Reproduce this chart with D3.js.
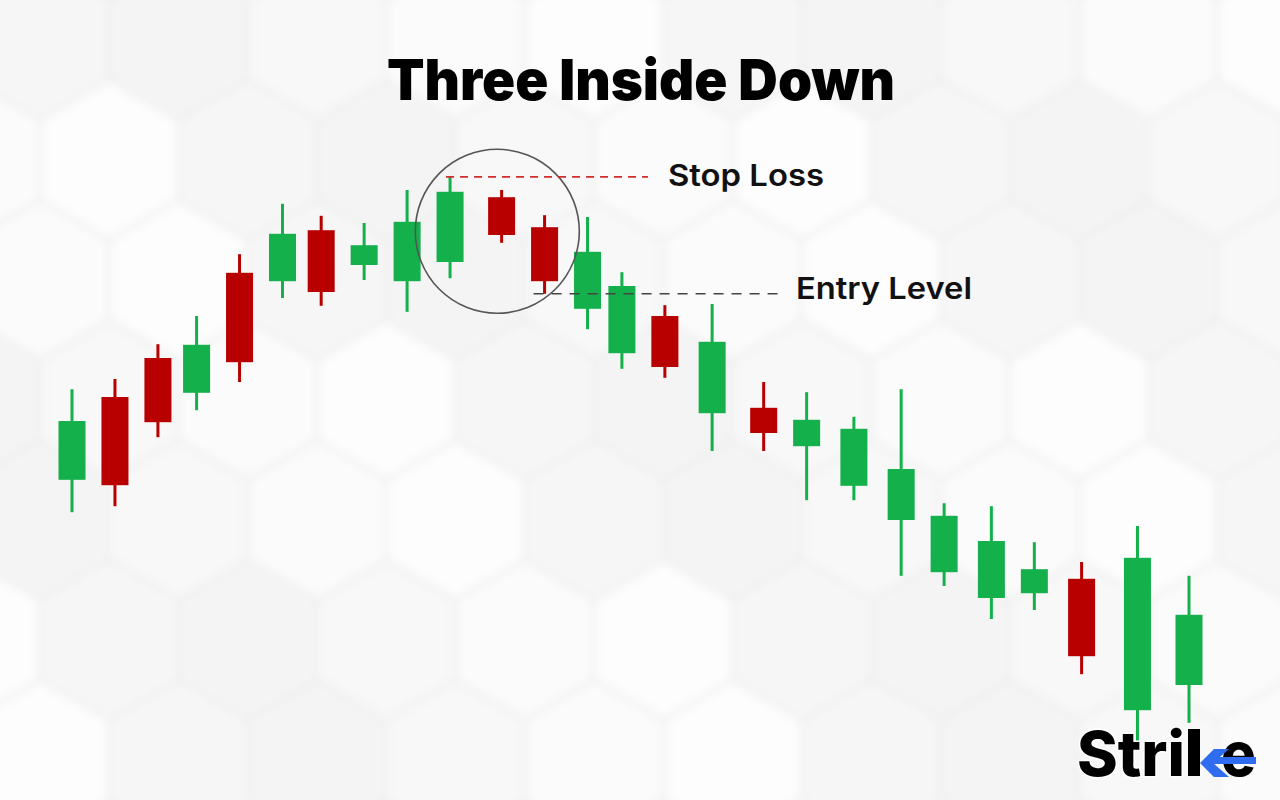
<!DOCTYPE html>
<html>
<head>
<meta charset="utf-8">
<script src="https://cdn.jsdelivr.net/npm/d3@7"></script>
<style>
html,body{margin:0;padding:0;background:#fafafa;}
svg{display:block;}
</style>
</head>
<body>
<svg id="chart" width="1280" height="800"></svg>
<script>
// ---- data (price units) ----
const sessions = [0,1.0,2.0,2.9,3.9,4.9,5.8,6.8,7.8,8.8,10.0,11.0,12.0,12.8,13.8,14.9,16.1,17.1,18.2,19.3,20.3,21.4,22.4,23.5,24.8,26.0];
const opens  = [46.7,60.5,67.0,61.2,81.2,79.8,88.3,82.5,79.8,83.0,93.8,88.8,75.2,67.8,74.0,57.8,58.7,52.3,45.7,40.0,31.3,27.0,27.8,30.2,8.3,12.5];
const highs  = [61.8,63.5,69.3,74.0,84.3,92.7,90.7,89.5,95.0,97.2,95.0,90.8,90.5,81.3,75.8,76.0,63.0,61.3,57.2,61.8,42.8,42.3,36.3,33.0,39.0,30.7];
const lows   = [41.3,42.3,53.8,58.3,63.0,77.0,75.7,80.0,74.7,80.3,86.2,77.7,71.8,65.2,63.7,51.5,51.5,43.3,43.3,30.7,29.0,23.5,25.0,14.3,3.0,6.2];
const closes = [56.5,45.8,56.3,69.2,66.3,87.7,78.0,85.8,89.7,94.7,87.5,79.8,84.7,79.0,65.5,69.7,54.5,56.7,55.2,48.5,40.7,36.5,31.8,17.3,33.7,24.2];
const title = "Three Inside Down";
const labels = ["Stop Loss", "Entry Level"];
const patternIdx = [9, 10, 11]; // Three Inside Down candles

const candles = sessions.map((t,i)=>({t, o:opens[i], h:highs[i], l:lows[i], c:closes[i]}));

const svg = d3.select("#chart");
const W = 1280, H = 800;

// ---- background hex pattern ----
const defs = svg.append("defs");
defs.append("filter").attr("id","soft").append("feGaussianBlur").attr("stdDeviation",4);
const bg = svg.append("g");
bg.append("rect").attr("width",W).attr("height",H).attr("fill","#fafafa");
const bgHex = bg.append("g").attr("filter","url(#soft)");
const R = 80, hw = Math.sqrt(3)*R;
const hexPts = (cx,cy)=>d3.range(6).map(k=>{const a=Math.PI/180*(60*k-90);return [cx+R*Math.cos(a), cy+R*Math.sin(a)];});
const fills = ["#f6f6f6","#fbfbfb","#f4f4f4","#fdfdfd","#f8f8f8"];
for(let row=-1; row*1.5*R < H+R; row++){
  for(let col=-1; col*hw < W+hw; col++){
    const cx = col*hw + (row%2 ? hw/2 : 0) + 40;
    const cy = row*1.5*R + 40;
    bgHex.append("polygon")
      .attr("points", hexPts(cx,cy).map(p=>p.join(",")).join(" "))
      .attr("fill", fills[(row*3+col*2+50)%fills.length])
      .attr("stroke","#ededed").attr("stroke-width",3);
  }
}

// ---- scales ----
const x = d3.scaleLinear().domain([0,26]).range([72,1189]);
const y = d3.scaleLinear().domain([0,100]).range([760,160]);
const bodyW = 27;
const green = "#13b04b", red = "#b90000";

// ---- title ----
svg.append("text").text(title)
  .attr("x",641).attr("y",100).attr("text-anchor","middle")
  .attr("font-family","Inter, 'Open Sans', sans-serif").attr("font-weight",900)
  .attr("font-size",56).attr("fill","#000")
  .attr("textLength",508).attr("lengthAdjust","spacingAndGlyphs");

// ---- candles ----
const cg = svg.append("g");
const g = cg.selectAll("g.c").data(candles).join("g").attr("class","c");
g.append("line")
  .attr("x1",d=>x(d.t)).attr("x2",d=>x(d.t))
  .attr("y1",d=>y(d.h)).attr("y2",d=>y(d.l))
  .attr("stroke",d=>d.c>=d.o?green:red).attr("stroke-width",3);
g.append("rect")
  .attr("x",d=>x(d.t)-bodyW/2).attr("width",bodyW)
  .attr("y",d=>y(Math.max(d.o,d.c)))
  .attr("height",d=>Math.abs(y(d.o)-y(d.c)))
  .attr("fill",d=>d.c>=d.o?green:red);

// ---- annotations ----
const pA = candles[patternIdx[0]], pC = candles[patternIdx[2]];
const cx = (x(pA.t)+x(pC.t))/2;
const cy = (y(pA.h)+y(pC.l))/2 - 4;
svg.append("circle").attr("cx",cx).attr("cy",cy).attr("r",82)
  .attr("fill","none").attr("stroke","#555").attr("stroke-width",1.6);

const stopY = y(pA.h);
svg.append("line").attr("x1",x(pA.t)-4).attr("x2",648).attr("y1",stopY).attr("y2",stopY)
  .attr("stroke","#d22c2c").attr("stroke-width",1.8).attr("stroke-dasharray","8,6");
const entryY = y(pC.l);
svg.append("line").attr("x1",x(pC.t)-11).attr("x2",781).attr("y1",entryY).attr("y2",entryY)
  .attr("stroke","#444").attr("stroke-width",1.6).attr("stroke-dasharray","10,8");

svg.append("text").text(labels[0]).attr("x",668).attr("y",stopY+9)
  .attr("font-family","Inter, sans-serif").attr("font-weight",600).attr("font-size",30)
  .attr("fill","#111").attr("textLength",156).attr("lengthAdjust","spacingAndGlyphs");
svg.append("text").text(labels[1]).attr("x",796).attr("y",entryY+5)
  .attr("font-family","Inter, sans-serif").attr("font-weight",600).attr("font-size",30)
  .attr("fill","#111").attr("textLength",176).attr("lengthAdjust","spacingAndGlyphs");

// ---- logo ----
const logo = svg.append("g");
logo.append("text").text("Stri").attr("x",1077).attr("y",776)
  .attr("font-family","Inter, sans-serif").attr("font-weight",800).attr("font-size",62)
  .attr("fill","#000").attr("stroke","#fff").attr("stroke-width",3).attr("paint-order","stroke")
  .attr("textLength",108).attr("lengthAdjust","spacingAndGlyphs");
logo.append("rect").attr("x",1188).attr("y",729).attr("width",12).attr("height",47).attr("fill","#000");
logo.append("text").text("e").attr("x",1221).attr("y",776)
  .attr("font-family","Inter, sans-serif").attr("font-weight",800).attr("font-size",62)
  .attr("fill","#000").attr("textLength",35).attr("lengthAdjust","spacingAndGlyphs");
logo.append("polygon")
  .attr("points","1214,749 1229,749 1213,763 1229,777 1214,777 1200,763")
  .attr("fill","#2f6cf0");
logo.append("rect").attr("x",1212).attr("y",757).attr("width",44).attr("height",7).attr("fill","#2f6cf0");
</script>
</body>
</html>
